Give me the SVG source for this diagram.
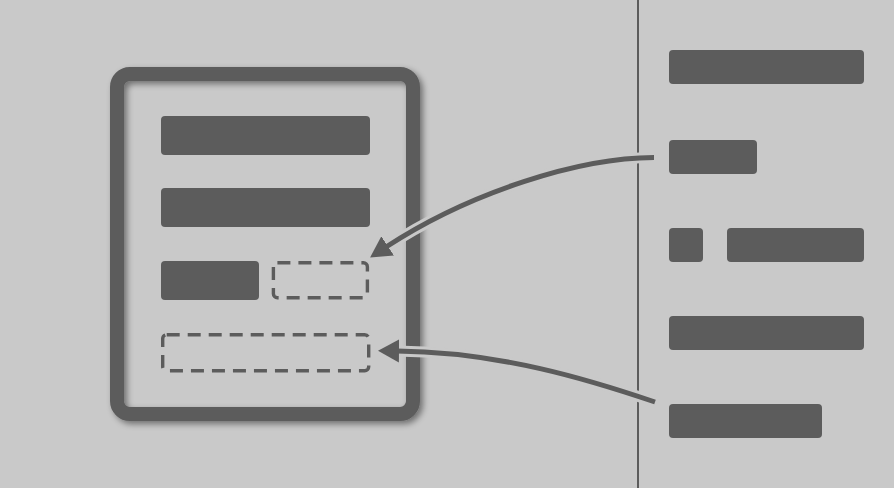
<svg xmlns="http://www.w3.org/2000/svg" width="894" height="488" viewBox="0 0 894 488">
<style>
.bar{fill:#5c5c5c}
.dash{fill:none;stroke:#5c5c5c;stroke-width:3.4;stroke-dasharray:13 8}
.halo{fill:none;stroke:#c9c9c9;stroke-width:11}
.arrow{fill:none;stroke:#5c5c5c;stroke-width:5}
</style>
<defs>
<filter id="sh" x="-10%" y="-10%" width="125%" height="125%">
<feDropShadow dx="3" dy="3" stdDeviation="3" flood-color="#000" flood-opacity="0.45"/>
</filter>
<marker id="ah" markerUnits="userSpaceOnUse" markerWidth="24" markerHeight="24" viewBox="0 0 24 24" refX="2" refY="11.5" orient="auto">
<path d="M0,0 L21,11.5 L0,23 Z" fill="#5c5c5c"/>
</marker>
</defs>
<rect width="894" height="488" fill="#c9c9c9"/>
<g id="divider"><line x1="638" y1="0" x2="638" y2="488" stroke="#5c5c5c" stroke-width="2"/></g>
<g id="form">
<rect x="117" y="74" width="296" height="340" rx="13" fill="none" stroke="#5c5c5c" stroke-width="14" filter="url(#sh)"/>
<rect class="bar" x="161" y="116" width="209" height="39" rx="4"/>
<rect class="bar" x="161" y="188" width="209" height="39" rx="4"/>
<rect class="bar" x="161" y="261" width="98" height="39" rx="4"/>
<rect id="slot-small" class="dash" x="273.4" y="262.7" width="94" height="35" rx="4"/>
<rect id="slot-wide" class="dash" x="162.7" y="334.7" width="206" height="36" rx="4"/>
</g>
<g id="palette">
<rect class="bar" x="669" y="50" width="195" height="34" rx="4"/>
<rect class="bar" x="669" y="140" width="88" height="34" rx="4"/>
<rect class="bar" x="669" y="228" width="34" height="34" rx="4"/>
<rect class="bar" x="727" y="228" width="137" height="34" rx="4"/>
<rect class="bar" x="669" y="316" width="195" height="34" rx="4"/>
<rect class="bar" x="669" y="404" width="153" height="34" rx="4"/>
</g>
<g id="connectors">
<path class="halo" d="M654,157.5 C580,157.5 470,192 386,247"/>
<path class="arrow" d="M654,157.5 C580,157.5 470,192 386,247" marker-end="url(#ah)"/>
<path class="halo" d="M655,402 C590,380 500,352 397,351"/>
<path class="arrow" d="M655,402 C590,380 500,352 397,351" marker-end="url(#ah)"/>
</g>
</svg>
